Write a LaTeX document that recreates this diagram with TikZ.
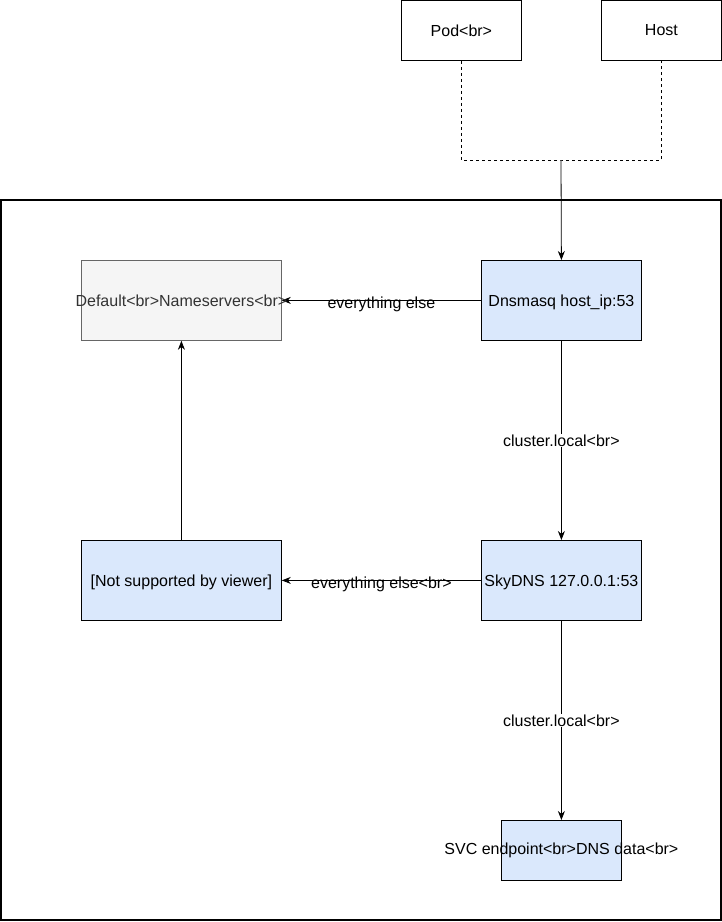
\documentclass[tikz,border=0pt]{standalone}
\usepackage{fontspec}
\setmainfont{Liberation Sans}
\usetikzlibrary{arrows.meta}
\definecolor{bluef}{HTML}{DAE8FC}
\definecolor{grayf}{HTML}{F5F5F5}
\definecolor{grays}{HTML}{666666}
\definecolor{grayt}{HTML}{333333}
\tikzset{
  box/.style={draw=black, line width=0.8pt, minimum width=#1, inner sep=0pt, font=\fontsize{16}{18}\selectfont, anchor=north west, text depth=0pt, yshift=0pt},
  arr/.style={-{Stealth[length=9pt,width=7pt]}, line width=0.8pt},
  lbl/.style={fill=white, inner sep=1pt, font=\fontsize{16}{18}\selectfont},
  hlbl/.style={inner sep=1pt, font=\fontsize{16}{18}\selectfont, yshift=-4pt}
}
\begin{document}
\begin{tikzpicture}[x=1pt,y=-1pt]
\useasboundingbox (0,0) rectangle (722,922);
\draw[line width=1.5pt] (1,200) rectangle (721,920);
\node[box=120pt, minimum height=60pt] (pod) at (401,0) {Pod<br>};
\node[box=120pt, minimum height=60pt] (host) at (601,0) {Host};
\node[box=200pt, minimum height=80pt, fill=grayf, draw=grays, text=grayt] (def) at (81,260) {};
\node[box=160pt, minimum height=80pt, fill=bluef] (dns) at (481,260) {Dnsmasq host\_ip:53};
\node[box=160pt, minimum height=80pt, fill=bluef] (sky) at (481,540) {SkyDNS 127.0.0.1:53};
\node[box=200pt, minimum height=80pt, fill=bluef] (ns) at (81,540) {[Not supported by viewer]};
\node[box=120pt, minimum height=60pt, fill=bluef] (svc) at (501,820) {};
\node[font=\fontsize{16}{18}\selectfont] at (svc.center) {SVC endpoint<br>DNS data<br>};
\coordinate (j) at (561,160);
\draw[dashed, line width=0.6pt] (pod.south) |- (j) -| (host.south);
\draw[arr] (j) -- (dns.north);
\draw[arr] (dns.west) -- node[hlbl] {everything else} (def.east);
\draw[arr] (dns.south) -- node[lbl] {cluster.local<br>} (sky.north);
\draw[arr] (sky.west) -- node[hlbl] {everything else<br>} (ns.east);
\draw[arr] (ns.north) -- (def.south);
\draw[arr] (sky.south) -- node[lbl] {cluster.local<br>} (svc.north);
\node[font=\fontsize{16}{18}\selectfont, text=grayt] at (def.center) {Default<br>Nameservers<br>};
\end{tikzpicture}
\end{document}
